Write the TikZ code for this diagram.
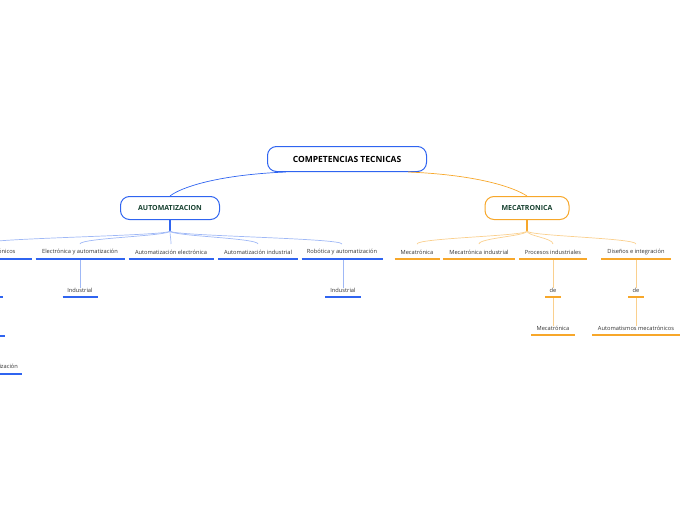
\documentclass[tikz,border=0pt]{standalone}
\usepackage{fontspec}
\setmainfont{Open Sans}
\definecolor{bl}{HTML}{2F64F0}
\definecolor{lbl}{HTML}{9FB8F6}
\definecolor{or}{HTML}{F7A72A}
\definecolor{lor}{HTML}{FAD08E}
\definecolor{dg}{HTML}{16402F}
\begin{document}
\begin{tikzpicture}[x=1pt,y=-1pt,
 root/.style={draw=bl,line width=1pt,rounded corners=9pt,minimum width=159pt,minimum height=25pt,font=\fontsize{8.5}{9}\selectfont\bfseries,text=black},
 mainb/.style={draw=bl,line width=1pt,rounded corners=9pt,minimum width=99pt,minimum height=23pt,font=\fontsize{7}{8}\selectfont\bfseries,text=dg},
 maino/.style={mainb,draw=or,minimum width=84pt},
 sub/.style={font=\fontsize{5.7}{6}\selectfont,text=black!80,inner sep=0pt},
 ul/.style={line width=1.3pt,bl},
 ulo/.style={line width=1.3pt,or},
 cb/.style={lbl,line width=0.7pt},
 co/.style={lor,line width=0.7pt}]
\useasboundingbox (0,0) rectangle (697,520);
\clip (0,0) rectangle (697,520);
\node[root] (r) at (347,159) {COMPETENCIAS TECNICAS};
\node[mainb] (a) at (170,208) {AUTOMATIZACION};
\node[maino] (m) at (527,208) {MECATRONICA};
\draw[bl,line width=0.7pt] (r.192) .. controls (215,175) and (180,188) .. (a.north);
\draw[or,line width=0.7pt] (r.348) .. controls (480,175) and (515,188) .. (m.north);
% blue children
\coordinate (ab) at (170,231);
\draw[bl,line width=1.5pt] (a.south) -- (ab);
\foreach \n/\x/\w/\t in {b0/-20/104/Componentes electrónicos,b1/80/89/Electrónica y automatización,b2/171/85/Automatización electrónica,b3/258/80/Automatización industrial,b4/342/81/Robótica y automatización}{
 \node[sub] (\n) at (\x,252) {\t};
 \coordinate (\n u) at (\x,244);
 \draw[ul] (\x-\w/2,259) -- (\x+\w/2,259);
 \draw[cb] (ab) .. controls (170,236) and (\x,238) .. (\n u);
}
\foreach \n/\x/\w/\y/\t in {i1/80/35/290/Industrial,i2/343/36/290/Industrial,l1/-30/66/290/Industrial,l2/-30/70/329/Electrónica,l3/-20/84/367/Electrónica y automatización}{
 \node[sub] (\n) at (\x,\y) {\t};
 \draw[ul] (\x-\w/2,\y+7) -- (\x+\w/2,\y+7);
}
\draw[cb] (80,260) -- (i1.north);
\draw[cb] (343,260) -- (i2.north);
% orange children
\coordinate (mb) at (527,231);
\draw[or,line width=1.5pt] (m.south) -- (mb);
\foreach \n/\x/\w/\t in {o1/417/45/Mecatrónica,o2/479/72/Mecatrónica industrial,o3/553/68/Procesos industriales,o4/636/70/Diseños e integración}{
 \node[sub] (\n) at (\x,252) {\t};
 \coordinate (\n u) at (\x,244);
 \draw[ulo] (\x-\w/2,259) -- (\x+\w/2,259);
 \draw[co] (mb) .. controls (527,236) and (\x,238) .. (\n u);
}
\foreach \n/\x/\w/\y/\t in {d1/553/16/290/de,d2/636/16/290/de,e1/553/44/328/Mecatrónica,e2/636/88/328/Automatismos mecatrónicos}{
 \node[sub] (\n) at (\x,\y) {\t};
 \draw[ulo] (\x-\w/2,\y+7) -- (\x+\w/2,\y+7);
}
\draw[co] (553,260) -- (d1.north);
\draw[co] (636,260) -- (d2.north);
\draw[co] (553,298) -- (e1.north);
\draw[co] (636,298) -- (e2.north);
\end{tikzpicture}
\end{document}
